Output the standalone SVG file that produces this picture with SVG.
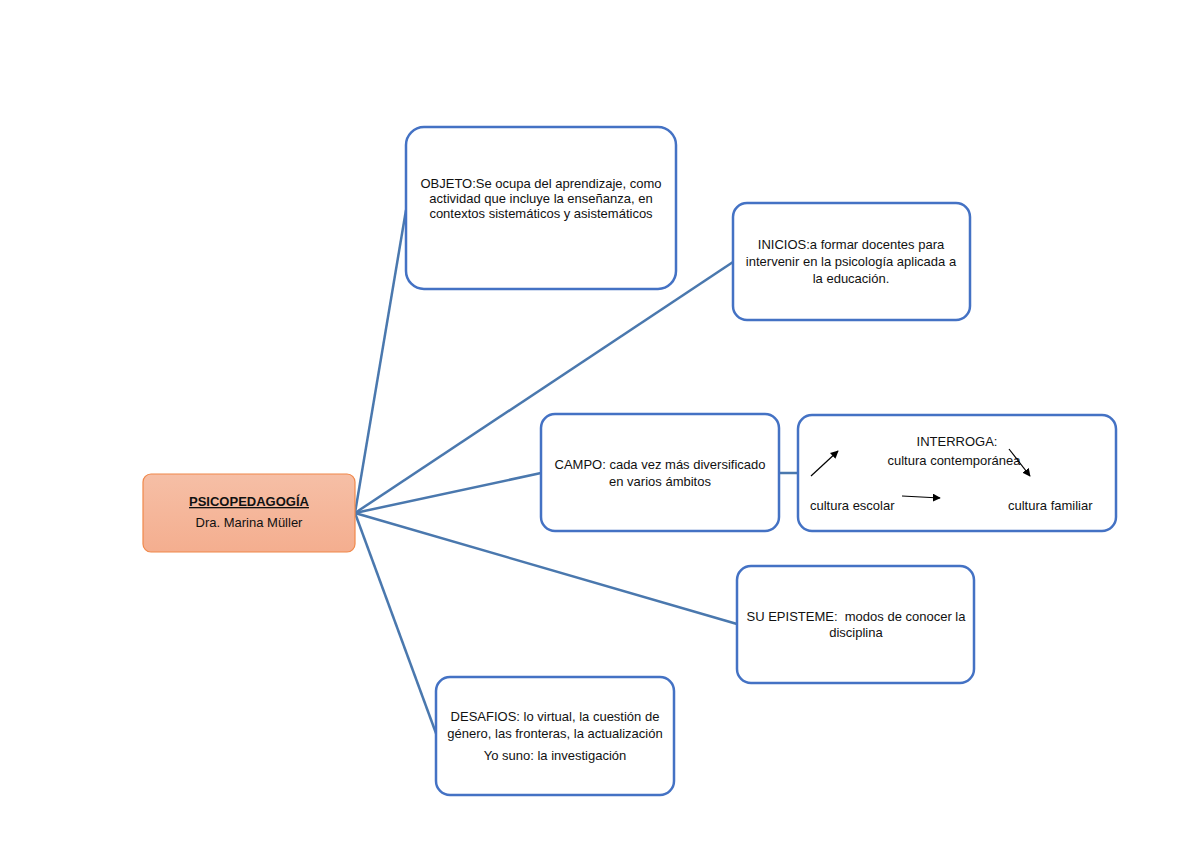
<svg xmlns="http://www.w3.org/2000/svg" width="1200" height="849" viewBox="0 0 1200 849">
<defs>
<linearGradient id="og" x1="0" y1="0" x2="0" y2="1">
<stop offset="0" stop-color="#F6BFA6"/>
<stop offset="1" stop-color="#F4AE8F"/>
</linearGradient>
<marker id="ah" viewBox="0 0 10 10" refX="9" refY="5" markerWidth="8" markerHeight="8" markerUnits="userSpaceOnUse" orient="auto">
<path d="M0,0 L10,5 L0,10 z" fill="#000"/>
</marker>
<style>
.box{fill:#fff;stroke:#4472C4;stroke-width:2.5}
.t{font-family:"Liberation Sans",Arial,sans-serif;font-size:13px;fill:#111;text-anchor:middle;white-space:pre}
.l{text-anchor:start}
.con{stroke:#4A78AE;stroke-width:2.5;fill:none}
.ar{stroke:#000;stroke-width:1.2;fill:none;marker-end:url(#ah)}
</style>
</defs>
<rect width="1200" height="849" fill="#fff"/>
<g id="connectors">
<line class="con" x1="355" y1="513" x2="406" y2="210"/>
<line class="con" x1="355" y1="513" x2="733" y2="262"/>
<line class="con" x1="355" y1="513" x2="541" y2="473"/>
<line class="con" x1="355" y1="513" x2="737" y2="624"/>
<line class="con" x1="355" y1="513" x2="437" y2="736"/>
<line class="con" x1="779" y1="473" x2="798" y2="473"/>
</g>
<g id="center">
<rect x="143" y="474" width="212" height="78" rx="8" fill="url(#og)" stroke="#F0884A" stroke-width="1.2"/>
<text class="t" x="249" y="506" font-weight="bold" text-decoration="underline">PSICOPEDAGOGÍA</text>
<text class="t" x="249" y="527">Dra. Marina Müller</text>
</g>
<g id="objeto">
<rect class="box" x="406" y="127" width="270" height="162" rx="18"/>
<text class="t" x="541" y="188">OBJETO:Se ocupa del aprendizaje, como</text>
<text class="t" x="541" y="203">actividad que incluye la enseñanza, en</text>
<text class="t" x="541" y="218">contextos sistemáticos y asistemáticos</text>
</g>
<g id="inicios">
<rect class="box" x="733" y="203" width="237" height="117" rx="14"/>
<text class="t" x="851" y="249">INICIOS:a formar docentes para</text>
<text class="t" x="851" y="266">intervenir en la psicología aplicada a</text>
<text class="t" x="851" y="283">la educación.</text>
</g>
<g id="campo">
<rect class="box" x="541" y="414" width="238" height="117" rx="14"/>
<text class="t" x="660" y="469">CAMPO: cada vez más diversificado</text>
<text class="t" x="660" y="486">en varios ámbitos</text>
</g>
<g id="interroga">
<rect class="box" x="798" y="415" width="318" height="116" rx="14"/>
<text class="t" x="957" y="446">INTERROGA:</text>
<text class="t" x="954" y="465">cultura contemporánea</text>
<text class="t l" x="810" y="510">cultura escolar</text>
<text class="t l" x="1008" y="510">cultura familiar</text>
<line class="ar" x1="811" y1="476" x2="838" y2="451"/>
<line class="ar" x1="902" y1="496" x2="940" y2="498"/>
<line class="ar" x1="1009" y1="449" x2="1030" y2="476"/>
</g>
<g id="episteme">
<rect class="box" x="737" y="566" width="237" height="117" rx="14"/>
<text class="t" x="856" y="621" xml:space="preserve">SU EPISTEME:  modos de conocer la</text>
<text class="t" x="856" y="637">disciplina</text>
</g>
<g id="desafios">
<rect class="box" x="436" y="677" width="238" height="118" rx="14"/>
<text class="t" x="555" y="721">DESAFIOS: lo virtual, la cuestión de</text>
<text class="t" x="555" y="738">género, las fronteras, la actualización</text>
<text class="t" x="555" y="760">Yo suno: la investigación</text>
</g>
</svg>
